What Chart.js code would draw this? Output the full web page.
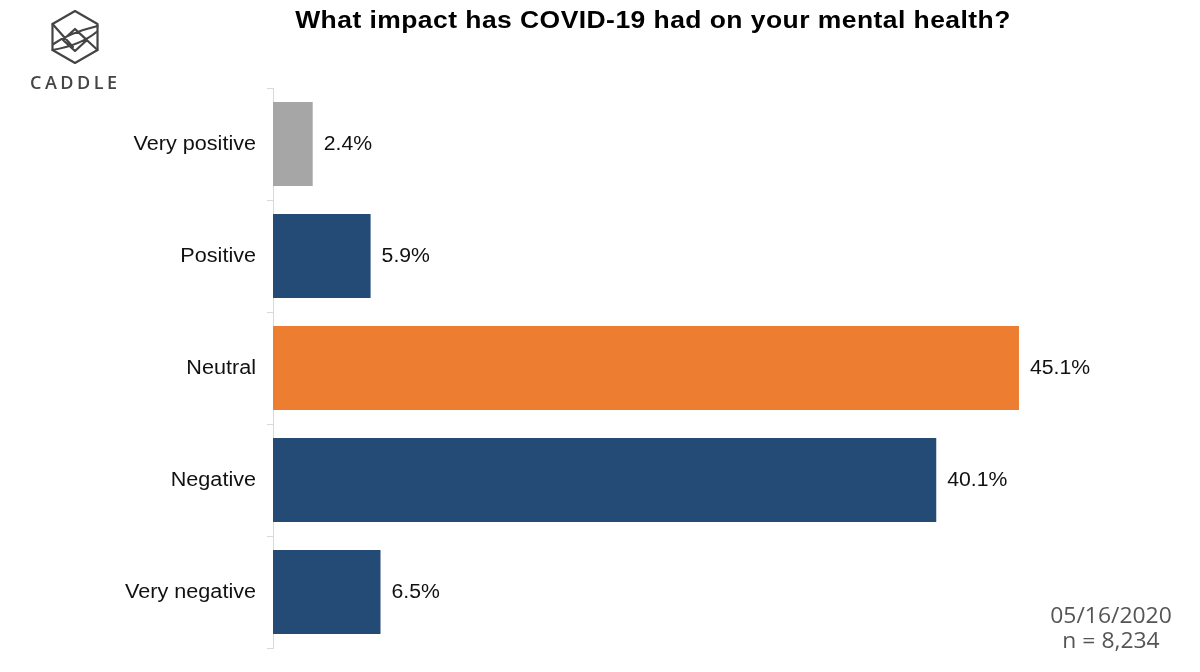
<!DOCTYPE html>
<html><head><meta charset="utf-8">
<script src="https://cdn.jsdelivr.net/npm/chart.js@4/dist/chart.umd.min.js"></script>
<style>html,body{margin:0;padding:0;background:#fff}#w{width:1200px;height:672px}</style>
</head><body><div id="w"><canvas id="c"></canvas></div>
<script>
const categories = ["Very positive", "Positive", "Neutral", "Negative", "Very negative"];
const values = [2.4, 5.9, 45.1, 40.1, 6.5];
const barColors = ["#A6A6A6", "#244A76", "#ED7D31", "#244A76", "#244A76"];
const titleText = "What impact has COVID-19 had on your mental health?";
const footerLines = ["05/16/2020", "n = 8,234"];

function drawText(ctx, text, x, y, align, sx, ls) {
  ctx.save();
  ctx.translate(x, y);
  ctx.scale(sx, 1);
  ctx.letterSpacing = (ls || 0) + "px";
  ctx.textAlign = align;
  ctx.fillText(text, 0, 0);
  ctx.restore();
}

const overlay = {
  id: "overlay",
  afterDatasetsDraw(chart) {
    const ctx = chart.ctx;
    const meta = chart.getDatasetMeta(0);
    const yScale = chart.scales.y;
    ctx.save();
    ctx.textBaseline = "middle";
    ctx.fillStyle = "#111";
    ctx.font = "20px 'Liberation Sans', Arial, sans-serif";
    categories.forEach((c, i) => {
      drawText(ctx, c, 256, yScale.getPixelForValue(i), "right", 1.08);
    });
    meta.data.forEach((bar, i) => {
      drawText(ctx, values[i].toFixed(1) + "%", bar.x + 11, bar.y, "left", 1.06);
    });
    ctx.font = "bold 23px 'Liberation Sans', Arial, sans-serif";
    ctx.fillStyle = "#000";
    drawText(ctx, titleText, 653, 22, "center", 1.15, 0.4);
    ctx.font = "22px 'Open Sans', sans-serif";
    ctx.fillStyle = "#555";
    drawText(ctx, footerLines[0], 1111, 617, "center", 1.04);
    drawText(ctx, footerLines[1], 1111, 642, "center", 1.04);
    // logo
    ctx.strokeStyle = "#444";
    ctx.lineWidth = 2.2;
    ctx.lineJoin = "round";
    ctx.lineCap = "round";
    const cx = 75, cy = 37, r = 26;
    ctx.beginPath();
    for (let k = 0; k < 6; k++) {
      const a = -Math.PI / 2 + k * Math.PI / 3;
      const x = cx + r * Math.cos(a), y = cy + r * Math.sin(a);
      if (k === 0) ctx.moveTo(x, y); else ctx.lineTo(x, y);
    }
    ctx.closePath();
    ctx.stroke();
    const vx = r * Math.cos(Math.PI / 6), vy = r / 2;
    ctx.beginPath();
    ctx.moveTo(cx - vx, cy - vy);
    ctx.lineTo(cx - 2, cy + 10);
    ctx.moveTo(cx - vx + 1, cy + vy - 6);
    ctx.quadraticCurveTo(cx - 6, cy - 4, cx + vx, cy - vy + 2);
    ctx.moveTo(cx + vx, cy + vy);
    ctx.lineTo(cx + 2, cy - 6);
    ctx.moveTo(cx + vx - 1, cy - vy + 8);
    ctx.quadraticCurveTo(cx + 6, cy + 8, cx - vx, cy + vy);
    ctx.moveTo(cx - 12, cy + 3);
    ctx.lineTo(cx, cy - 8);
    ctx.lineTo(cx + 12, cy + 3);
    ctx.lineTo(cx, cy + 14);
    ctx.closePath();
    ctx.stroke();
    ctx.font = "600 18px 'Open Sans', sans-serif";
    ctx.fillStyle = "#444";
    ctx.textAlign = "left";
    ctx.letterSpacing = "3.5px";
    ctx.fillText("CADDLE", 30, 84);
    ctx.restore();
  }
};

new Chart(document.getElementById("c"), {
  type: "bar",
  data: {
    labels: categories,
    datasets: [{
      data: values,
      backgroundColor: barColors,
      barPercentage: 0.75,
      categoryPercentage: 1.0
    }]
  },
  options: {
    indexAxis: "y",
    responsive: true,
    maintainAspectRatio: false,
    animation: false,
    layout: { padding: { top: 88, bottom: 24, right: 100, left: 0 } },
    plugins: { legend: { display: false }, tooltip: { enabled: false }, title: { display: false } },
    scales: {
      x: { display: false, min: 0, max: 50 },
      y: {
        afterFit(s) { s.width = 273; },
        grid: { display: true, offset: true, drawOnChartArea: false, tickLength: 6, color: "#D9D9D9" },
        border: { display: true, color: "#D9D9D9", width: 1 },
        ticks: { display: false }
      }
    }
  },
  plugins: [overlay]
});
</script></body></html>
